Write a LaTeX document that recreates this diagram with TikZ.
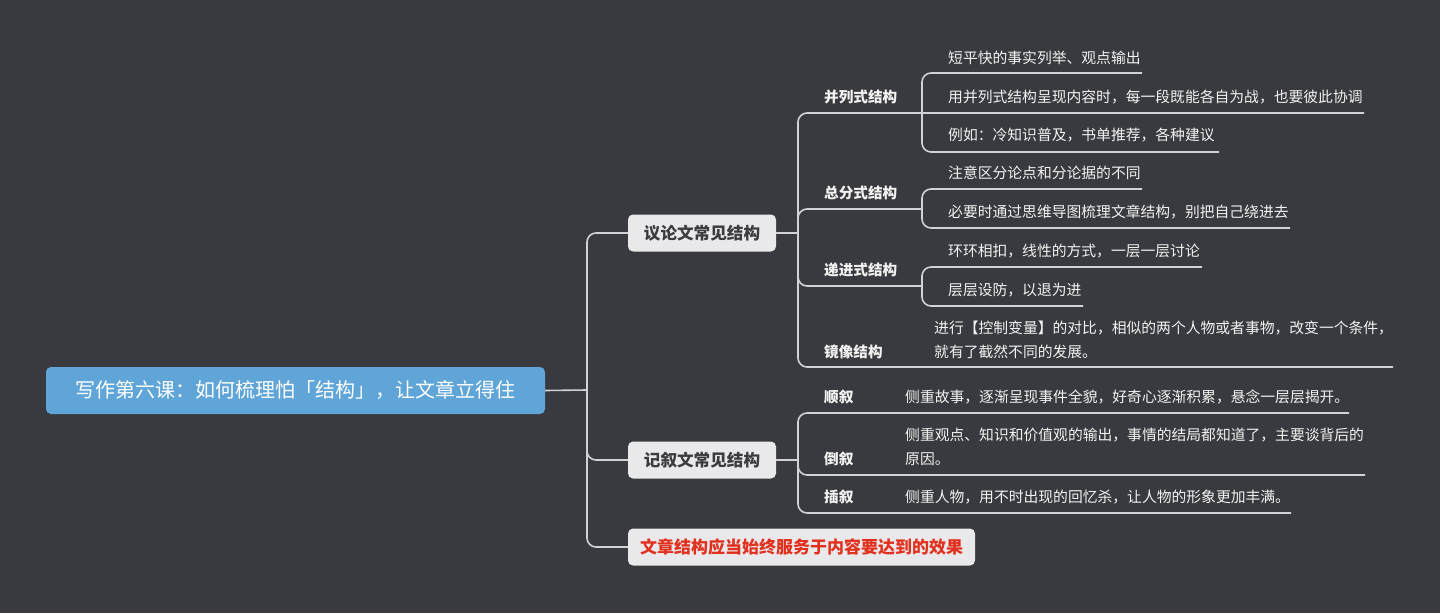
\documentclass[tikz,border=0pt]{standalone}
\usepackage{fontspec}
\setmainfont{Noto Sans CJK SC}
\definecolor{bgc}{RGB}{57,58,63}
\definecolor{lc}{RGB}{210,210,212}
\definecolor{rootc}{RGB}{96,165,216}
\definecolor{boxc}{RGB}{233,233,235}
\definecolor{boxt}{RGB}{60,60,64}
\definecolor{redt}{RGB}{226,48,30}
\definecolor{tc}{RGB}{242,242,242}
\begin{document}
\begin{tikzpicture}[x=1pt,y=-1pt,
  conn/.style={draw=lc, line width=1.6pt, rounded corners=9pt},
  leaf/.style={anchor=west, text=tc, font=\fontsize{14.8}{24}\selectfont, inner sep=0pt, align=left},
  sub/.style={anchor=west, text=tc, font=\bfseries\fontsize{14.6}{18}\selectfont, inner sep=0pt},
  topic/.style={fill=boxc, rounded corners=5pt, text=boxt, font=\bfseries\fontsize{16.6}{20}\selectfont, inner sep=0pt, minimum height=37pt}]
\fill[bgc] (0,0) rectangle (1440,613);
\useasboundingbox (0,0) rectangle (1440,613);
% root
\node[fill=rootc, rounded corners=5pt, text=white, font=\fontsize{20}{24}\selectfont, minimum width=499pt, minimum height=47pt, inner sep=0pt] (root) at (295.5,390.5) {写作第六课：如何梳理怕「结构」，让文章立得住};
% main topics
\node[topic, minimum width=148pt] (b1) at (702,233) {议论文常见结构};
\node[topic, minimum width=148pt] (b2) at (702,460) {记叙文常见结构};
\node[topic, minimum width=347pt, text=redt, font=\bfseries\fontsize{17}{20}\selectfont] (b3) at (801.5,547) {文章结构应当始终服务于内容要达到的效果};
% trunk
\coordinate (t0) at (587,390);
\draw[conn] (root.east) -- (t0);
\draw[conn] (t0) |- (b1.west);
\draw[conn] (t0) |- (b2.west);
\draw[conn] (t0) |- (b3.west);
% subtopics of b1
\node[sub] (s1) at (824,97) {并列式结构};
\node[sub] (s2) at (824,193) {总分式结构};
\node[sub] (s3) at (824,270) {递进式结构};
\node[sub] (s4) at (824,352) {镜像结构};
\node[leaf] (l1) at (948,58) {短平快的事实列举、观点输出};
\node[leaf] (l2) at (948,97) {用并列式结构呈现内容时，每一段既能各自为战，也要彼此协调};
\node[leaf] (l3) at (948,135) {例如：冷知识普及，书单推荐，各种建议};
\node[leaf] (l4) at (948,173) {注意区分论点和分论据的不同};
\node[leaf] (l5) at (948,212) {必要时通过思维导图梳理文章结构，别把自己绕进去};
\node[leaf] (l6) at (948,251) {环环相扣，线性的方式，一层一层讨论};
\node[leaf] (l7) at (948,290) {层层设防，以退为进};
\node[leaf] (l8) at (934,340) {进行【控制变量】的对比，相似的两个人物或者事物，改变一个条件，\\就有了截然不同的发展。};
\coordinate (j1) at (798,233);
\coordinate (k1) at (922,113);
\coordinate (k2) at (922,209);
\coordinate (k3) at (922,286);
\draw[conn] (b1.east) -- (j1);
\draw[conn] (j1) |- (k1) -- (1364,113);
\draw[conn] (j1) |- (k2);
\draw[conn] (j1) |- (k3);
\draw[conn] (j1) |- (1393,367);
\draw[conn] (k1) |- (1142,73);
\draw[conn] (k1) |- (1219,152);
\draw[conn] (k2) |- (1142,189);
\draw[conn] (k2) |- (1290,228);
\draw[conn] (k3) |- (1202,267);
\draw[conn] (k3) |- (1083,306);
% subtopics of b2
\node[sub] (n1) at (824,397) {顺叙};
\node[sub] (n2) at (824,459) {倒叙};
\node[sub] (n3) at (824,497) {插叙};
\node[leaf] (m1) at (905,397) {侧重故事，逐渐呈现事件全貌，好奇心逐渐积累，悬念一层层揭开。};
\node[leaf] (m2) at (905,447) {侧重观点、知识和价值观的输出，事情的结局都知道了，主要谈背后的\\原因。};
\node[leaf] (m3) at (905,497) {侧重人物，用不时出现的回忆杀，让人物的形象更加丰满。};
\coordinate (j2) at (798,460);
\draw[conn] (b2.east) -- (j2);
\draw[conn] (j2) |- (1349,413);
\draw[conn] (j2) |- (1365,475);
\draw[conn] (j2) |- (1291,513);
\end{tikzpicture}
\end{document}
